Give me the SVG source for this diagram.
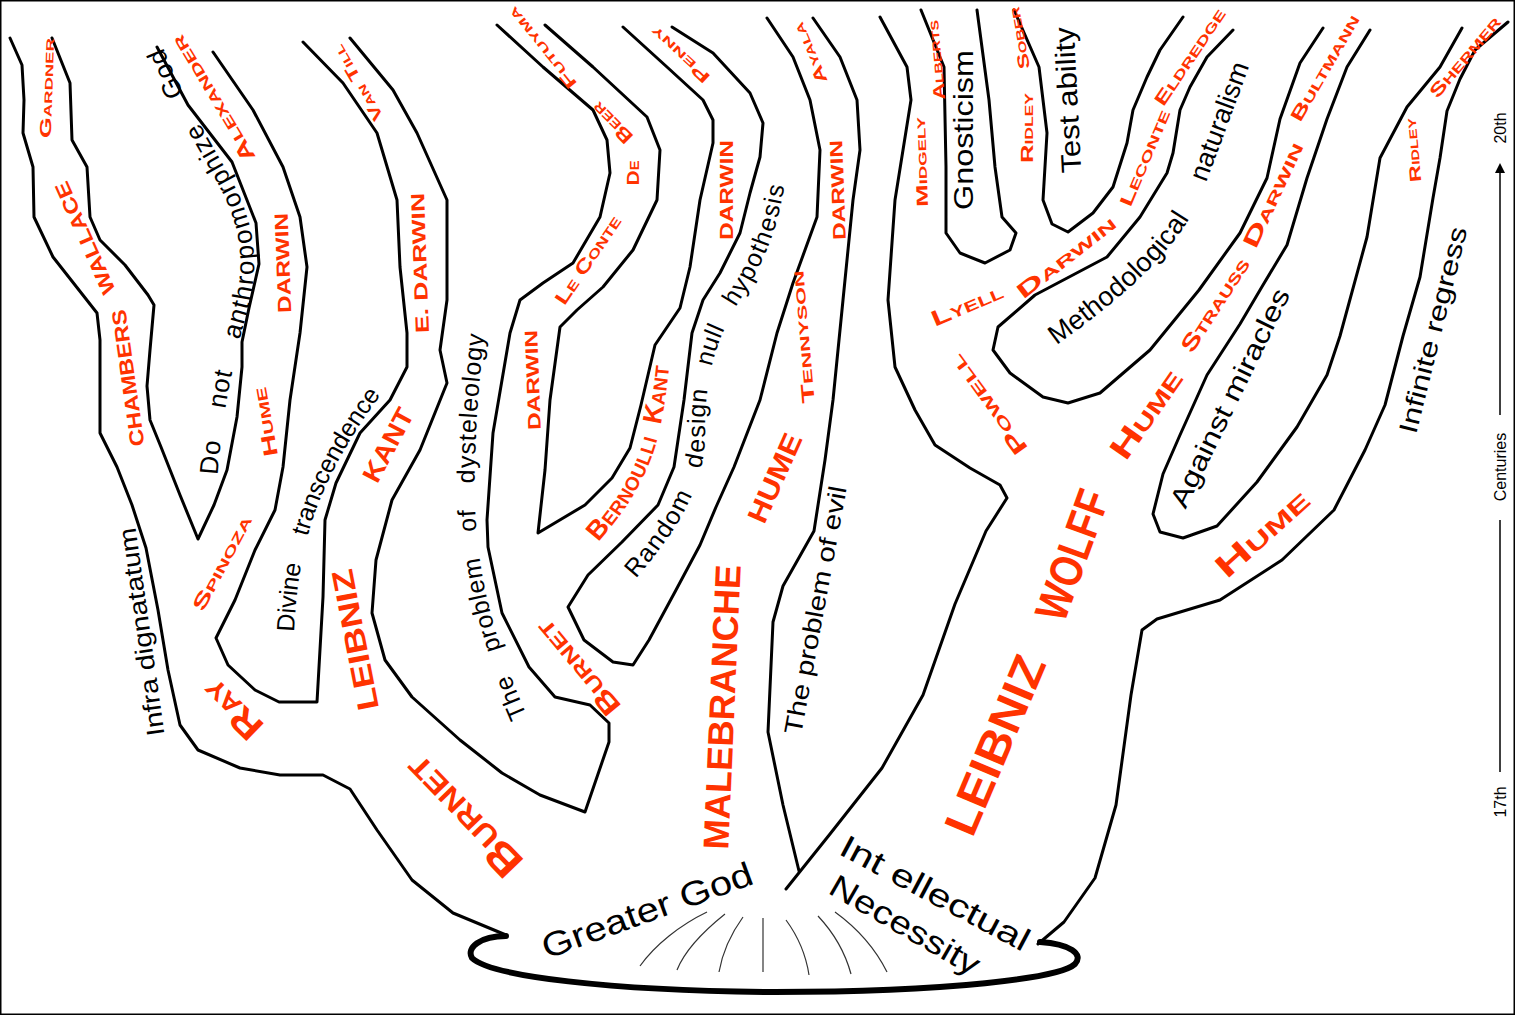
<svg xmlns="http://www.w3.org/2000/svg" width="1515" height="1015" viewBox="0 0 1515 1015">
<style>
.ln{fill:none;stroke:#000;stroke-width:3;stroke-linejoin:round;stroke-linecap:round}
.th{fill:none;stroke:#333;stroke-width:1.2}
.r{fill:#ff3300;font-family:"Liberation Sans",Arial,sans-serif;font-weight:bold;text-anchor:middle;dominant-baseline:central}
.sc{font-variant:small-caps}
.k{fill:#000;font-family:"Liberation Sans",Arial,sans-serif;text-anchor:middle;dominant-baseline:central}
.ax{fill:#000;font-family:"Liberation Sans",Arial,sans-serif;font-size:16px;text-anchor:middle;dominant-baseline:central}
</style>
<defs>
<marker id="ah" markerWidth="10" markerHeight="10" refX="5" refY="5" orient="auto" markerUnits="userSpaceOnUse"><path d="M0,0 L10,5 L0,10 z" fill="#000"/></marker>
<path id="tp1" d="M207,498 C211,420 224,360 238,312 C250,270 248,230 224,185 C200,140 172,100 146,28"/>
<path id="tp2" d="M284,662 C287,560 294,490 392,365"/>
<path id="tp3" d="M528,740 C482,640 462,560 466,460 C468,400 472,360 478,310"/>
<path id="tp4" d="M606,598 C660,540 698,490 696,430 C696,360 715,320 742,280 C764,240 774,210 780,150"/>
<path id="tp5" d="M1018,362 C1090,310 1160,262 1192,195 C1212,140 1232,90 1254,24"/>
<path id="tp6" d="M540,592 C578,552 610,518 626,490 C643,460 660,430 665,290"/>
</defs>
<rect x="0.75" y="0.75" width="1513.5" height="1013.5" fill="#fff" stroke="#000" stroke-width="1.5"/>
<g id="connectors">
<polyline class="ln" points="10,38 22,65 24,100 23,133 33,167 34,217 53,257 75,285 97,313 100,340 100,433 117,467 132,505 146,548 158,610 168,670 180,725 198,750 240,768 280,775 323,775 350,789 377,830 412,880 453,913 506,935"/>
<polyline class="ln" points="52,38 70,83 72,140 87,167 90,217 100,240 125,265 148,295 154,305 150,350 147,386 150,420 161,447 180,495 198,539 214,505 227,470 237,417 242,367 242,342 249,308 259,264 256,223 232,162 188,105 157,47"/>
<polyline class="ln" points="213,52 253,110 283,167 300,217 307,267 300,333 290,400 283,467 275,510 255,550 235,600 216,638 228,665 255,690 279,702 317,702 319,667 323,597 325,520 336,483 360,433 390,400 407,367 407,333 400,267 397,200 377,133 343,83 303,42"/>
<polyline class="ln" points="350,38 393,90 417,133 447,200 447,300 440,350 447,383 420,450 392,500 376,560 372,613 385,660 412,697 460,740 502,773 540,795 585,812 609,742 609,723 590,705 555,697 529,667 502,613 488,547 487,520 493,433 510,333 520,300 543,283 573,263 600,217 610,173 607,140 593,110 543,67 497,25"/>
<polyline class="ln" points="545,25 593,67 647,117 660,150 657,200 633,250 603,287 577,310 560,327 550,400 545,470 538,533 585,505 612,478 630,448 641,405 655,345 680,308 690,267 700,200 713,143 713,120 703,100 667,67 623,27"/>
<polyline class="ln" points="672,27 713,53 750,93 763,123 760,157 750,193 740,233 720,273 703,300 692,333 684,400 674,467 658,505 622,542 588,575 568,607 584,640 613,662 633,665 649,640 676,590 700,545 716,507 734,467 760,400 777,333 793,283 817,217 820,150 810,100 793,57 767,18"/>
<polyline class="ln" points="813,18 840,57 857,100 860,150 853,200 843,300 833,400 825,460 814,531 783,586 773,622 768,732 783,805 799,871"/>
<polyline class="ln" points="786,889 830,834 882,768 923,695 955,604 986,531 1007,498 1000,485 970,468 935,445 915,410 895,367 888,300 895,200 911,100 907,67 880,17"/>
<polyline class="ln" points="921,10 944,67 946,167 946,233 960,253 985,263 1010,250 1016,233 1002,217 995,167 989,100 977,10"/>
<polyline class="ln" points="1014,10 1039,67 1047,133 1043,200 1052,224 1068,232 1093,213 1113,187 1127,143 1133,110 1147,77 1160,50 1183,17"/>
<polyline class="ln" points="1233,30 1207,57 1190,87 1180,110 1173,153 1167,173 1140,217 1107,257 1035,295 998,327 993,350 1010,373 1043,397 1068,403 1100,393 1150,350 1199,290 1240,233 1267,178 1280,119 1300,63 1323,28"/>
<polyline class="ln" points="1370,30 1347,67 1327,119 1307,178 1287,245 1263,285 1240,324 1207,375 1180,435 1163,474 1153,514 1160,532 1183,538 1217,526 1257,482 1297,427 1327,375 1340,336 1367,237 1380,158 1407,107 1440,67 1462,28"/>
<polyline class="ln" points="1508,22 1475,50 1460,79 1447,111 1440,158 1433,198 1420,277 1403,336 1385,405 1365,450 1334,510 1282,560 1220,600 1157,619 1142,630 1131,695 1116,805 1095,878 1064,922 1038,944"/>
<path d="M506,936 C480,936 466,948 472,958 C490,976 610,991 775,992 C950,992 1060,978 1075,964 C1084,954 1070,944 1040,942" fill="none" stroke="#000" stroke-width="6" stroke-linecap="round"/>
<path class="th" d="M707,912 C680,925 655,945 640,966"/>
<path class="th" d="M725,914 C705,930 685,950 677,970"/>
<path class="th" d="M743,917 C730,935 722,955 719,972"/>
<path class="th" d="M763,918 L763,972"/>
<path class="th" d="M786,920 C797,935 806,955 809,975"/>
<path class="th" d="M818,916 C833,932 845,952 851,974"/>
<path class="th" d="M835,912 C857,928 876,950 887,972"/>
<line x1="1500" y1="772" x2="1500" y2="520" stroke="#000" stroke-width="1.5"/>
<line x1="1500" y1="415" x2="1500" y2="168" stroke="#000" stroke-width="1.5" marker-end="url(#ah)"/>
</g>
<g id="axis-labels">
<text class="ax" transform="translate(1500,128) rotate(-90)">20th</text>
<text class="ax" transform="translate(1500,467) rotate(-90)">Centuries</text>
<text class="ax" transform="translate(1500,802) rotate(-90)">17th</text>
</g>
<g id="names">
<text class="r sc" font-size="16" textLength="100" lengthAdjust="spacingAndGlyphs" transform="translate(47,88) rotate(-88)">Gardner</text>
<text class="r" font-size="20" textLength="121" lengthAdjust="spacingAndGlyphs" transform="translate(85,238) rotate(-114)">WALLACE</text>
<text class="r" font-size="20" textLength="138" lengthAdjust="spacingAndGlyphs" transform="translate(128,378) rotate(-98)">CHAMBERS</text>
<text class="r sc" font-size="20" textLength="144" lengthAdjust="spacingAndGlyphs" transform="translate(213,99) rotate(-121)">Alexander</text>
<text class="r" font-size="19" textLength="100" lengthAdjust="spacingAndGlyphs" transform="translate(283,263) rotate(-92)">DARWIN</text>
<text class="r sc" font-size="20" textLength="70" lengthAdjust="spacingAndGlyphs" transform="translate(265,422) rotate(-100)">Hume</text>
<text class="r sc" font-size="16" textLength="85" lengthAdjust="spacingAndGlyphs" transform="translate(358,83) rotate(-120)">Van Till</text>
<text class="r" font-size="19" textLength="140" lengthAdjust="spacingAndGlyphs" transform="translate(420,263) rotate(-92)">E. DARWIN</text>
<text class="r" font-size="26" textLength="80" lengthAdjust="spacingAndGlyphs" transform="translate(388,445) rotate(-62)">KANT</text>
<text class="r sc" font-size="19" textLength="105" lengthAdjust="spacingAndGlyphs" transform="translate(222,563) rotate(-62)">Spinoza</text>
<text class="r sc" font-size="36" textLength="70" lengthAdjust="spacingAndGlyphs" transform="translate(232,710) rotate(-136)">Ray</text>
<text class="r" font-size="30" textLength="143" lengthAdjust="spacingAndGlyphs" transform="translate(355,640) rotate(-101)">LEIBNIZ</text>
<text class="r sc" font-size="42" textLength="150" lengthAdjust="spacingAndGlyphs" transform="translate(463,817) rotate(-134)">Burnet</text>
<text class="r sc" font-size="28" textLength="115" lengthAdjust="spacingAndGlyphs" transform="translate(578,668) rotate(-130)">Burnet</text>
<text class="r" font-size="18" textLength="100" lengthAdjust="spacingAndGlyphs" transform="translate(533,380) rotate(-92)">DARWIN</text>
<text class="r sc" font-size="19" textLength="103" lengthAdjust="spacingAndGlyphs" transform="translate(588,260) rotate(-56)">Le Conte</text>
<text class="r sc" font-size="17" textLength="25" lengthAdjust="spacingAndGlyphs" transform="translate(633,173) rotate(-90)">De</text>
<text class="r sc" font-size="19" textLength="50" lengthAdjust="spacingAndGlyphs" transform="translate(612,123) rotate(-135)">Beer</text>
<text class="r sc" font-size="16" textLength="100" lengthAdjust="spacingAndGlyphs" transform="translate(542,48) rotate(-129)">Futuyma</text>
<text class="r sc" font-size="16" textLength="75" lengthAdjust="spacingAndGlyphs" transform="translate(680,55) rotate(-137)">Penny</text>
<text class="r" font-size="18" textLength="100" lengthAdjust="spacingAndGlyphs" transform="translate(727,190) rotate(-90)">DARWIN</text>
<text class="r sc" font-size="27"><textPath href="#tp6" startOffset="50%">Bernoulli <tspan dx="6">Kant</tspan></textPath></text>
<text class="r" font-size="28" textLength="95" lengthAdjust="spacingAndGlyphs" transform="translate(775,478) rotate(-66)">HUME</text>
<text class="r sc" font-size="18" textLength="133" lengthAdjust="spacingAndGlyphs" transform="translate(803,337) rotate(-95)">Tennyson</text>
<text class="r" font-size="18" textLength="100" lengthAdjust="spacingAndGlyphs" transform="translate(838,190) rotate(-92)">DARWIN</text>
<text class="r sc" font-size="16" textLength="65" lengthAdjust="spacingAndGlyphs" transform="translate(810,53) rotate(-113)">Ayala</text>
<text class="r" font-size="36" textLength="285" lengthAdjust="spacingAndGlyphs" transform="translate(722,707) rotate(-87.5)">MALEBRANCHE</text>
<text class="r" font-size="46" textLength="190" lengthAdjust="spacingAndGlyphs" transform="translate(995,745) rotate(-67)">LEIBNIZ</text>
<text class="r" font-size="46" textLength="135" lengthAdjust="spacingAndGlyphs" transform="translate(1072,555) rotate(-70)">WOLFF</text>
<text class="r sc" font-size="22" textLength="118" lengthAdjust="spacingAndGlyphs" transform="translate(988,405) rotate(-126)">Powell</text>
<text class="r sc" font-size="22" textLength="76" lengthAdjust="spacingAndGlyphs" transform="translate(967,305) rotate(-23)">Lyell</text>
<text class="r sc" font-size="21" textLength="120" lengthAdjust="spacingAndGlyphs" transform="translate(1066,257) rotate(-38)">Darwin</text>
<text class="r sc" font-size="18" textLength="103" lengthAdjust="spacingAndGlyphs" transform="translate(1145,158) rotate(-67)">Leconte</text>
<text class="r sc" font-size="18" textLength="113" lengthAdjust="spacingAndGlyphs" transform="translate(1190,57) rotate(-56)">Eldredge</text>
<text class="r sc" font-size="16" textLength="90" lengthAdjust="spacingAndGlyphs" transform="translate(921,162) rotate(-92)">Midgely</text>
<text class="r sc" font-size="16" textLength="80" lengthAdjust="spacingAndGlyphs" transform="translate(936,60) rotate(-95)">Alberts</text>
<text class="r sc" font-size="16" textLength="70" lengthAdjust="spacingAndGlyphs" transform="translate(1027,128) rotate(-90)">Ridley</text>
<text class="r sc" font-size="16" textLength="63" lengthAdjust="spacingAndGlyphs" transform="translate(1019,38) rotate(-100)">Sober</text>
<text class="r sc" font-size="32" textLength="102" lengthAdjust="spacingAndGlyphs" transform="translate(1146,414) rotate(-55)">Hume</text>
<text class="r sc" font-size="22" textLength="108" lengthAdjust="spacingAndGlyphs" transform="translate(1215,305) rotate(-57)">Strauss</text>
<text class="r sc" font-size="22" textLength="114" lengthAdjust="spacingAndGlyphs" transform="translate(1273,195) rotate(-65)">Darwin</text>
<text class="r sc" font-size="18" textLength="120" lengthAdjust="spacingAndGlyphs" transform="translate(1325,68) rotate(-60)">Bultmann</text>
<text class="r sc" font-size="32" textLength="115" lengthAdjust="spacingAndGlyphs" transform="translate(1262,533) rotate(-42)">Hume</text>
<text class="r sc" font-size="16" textLength="64" lengthAdjust="spacingAndGlyphs" transform="translate(1413,150) rotate(-95)">Ridley</text>
<text class="r sc" font-size="18" textLength="100" lengthAdjust="spacingAndGlyphs" transform="translate(1465,57) rotate(-50)">Shermer</text>
</g>
<g id="concepts">
<text class="k" font-size="26" word-spacing="24" letter-spacing="1"><textPath href="#tp1" startOffset="50%">Do not anthropomorphize God</textPath></text>
<text class="k" font-size="25" word-spacing="22"><textPath href="#tp2" startOffset="50%">Divine transcendence</textPath></text>
<text class="k" font-size="25" word-spacing="18" letter-spacing="1"><textPath href="#tp3" startOffset="50%">The problem of dysteleology</textPath></text>
<text class="k" font-size="25" word-spacing="16" letter-spacing="1"><textPath href="#tp4" startOffset="50%">Random design null hypothesis</textPath></text>
<text class="k" font-size="27" word-spacing="30"><textPath href="#tp5" startOffset="50%">Methodological naturalism</textPath></text>
<text class="k" font-size="25" textLength="210" lengthAdjust="spacingAndGlyphs" transform="translate(141,632) rotate(-98)">Infra  dignatatum</text>
<text class="k" font-size="25" textLength="252" lengthAdjust="spacingAndGlyphs" transform="translate(815,610) rotate(-79.5)">The  problem  of  evil</text>
<text class="k" font-size="28" textLength="160" lengthAdjust="spacingAndGlyphs" transform="translate(963,130) rotate(-90)">Gnosticism</text>
<text class="k" font-size="28" textLength="146" lengthAdjust="spacingAndGlyphs" transform="translate(1068,100) rotate(-93)">Test ability</text>
<text class="k" font-size="27" textLength="240" lengthAdjust="spacingAndGlyphs" transform="translate(1230,398) rotate(-64)">Against  miracles</text>
<text class="k" font-size="26" textLength="212" lengthAdjust="spacingAndGlyphs" transform="translate(1433,330) rotate(-76)">Infinite  regress</text>
<text class="k" font-size="34" textLength="222" lengthAdjust="spacingAndGlyphs" transform="translate(647,910) rotate(-20)">Greater God</text>
<text class="k" font-size="32" textLength="210" lengthAdjust="spacingAndGlyphs" transform="translate(935,893) rotate(28)">Int ellectual</text>
<text class="k" font-size="32" textLength="168" lengthAdjust="spacingAndGlyphs" transform="translate(905,925) rotate(30)">Necessity</text>
</g>
</svg>
